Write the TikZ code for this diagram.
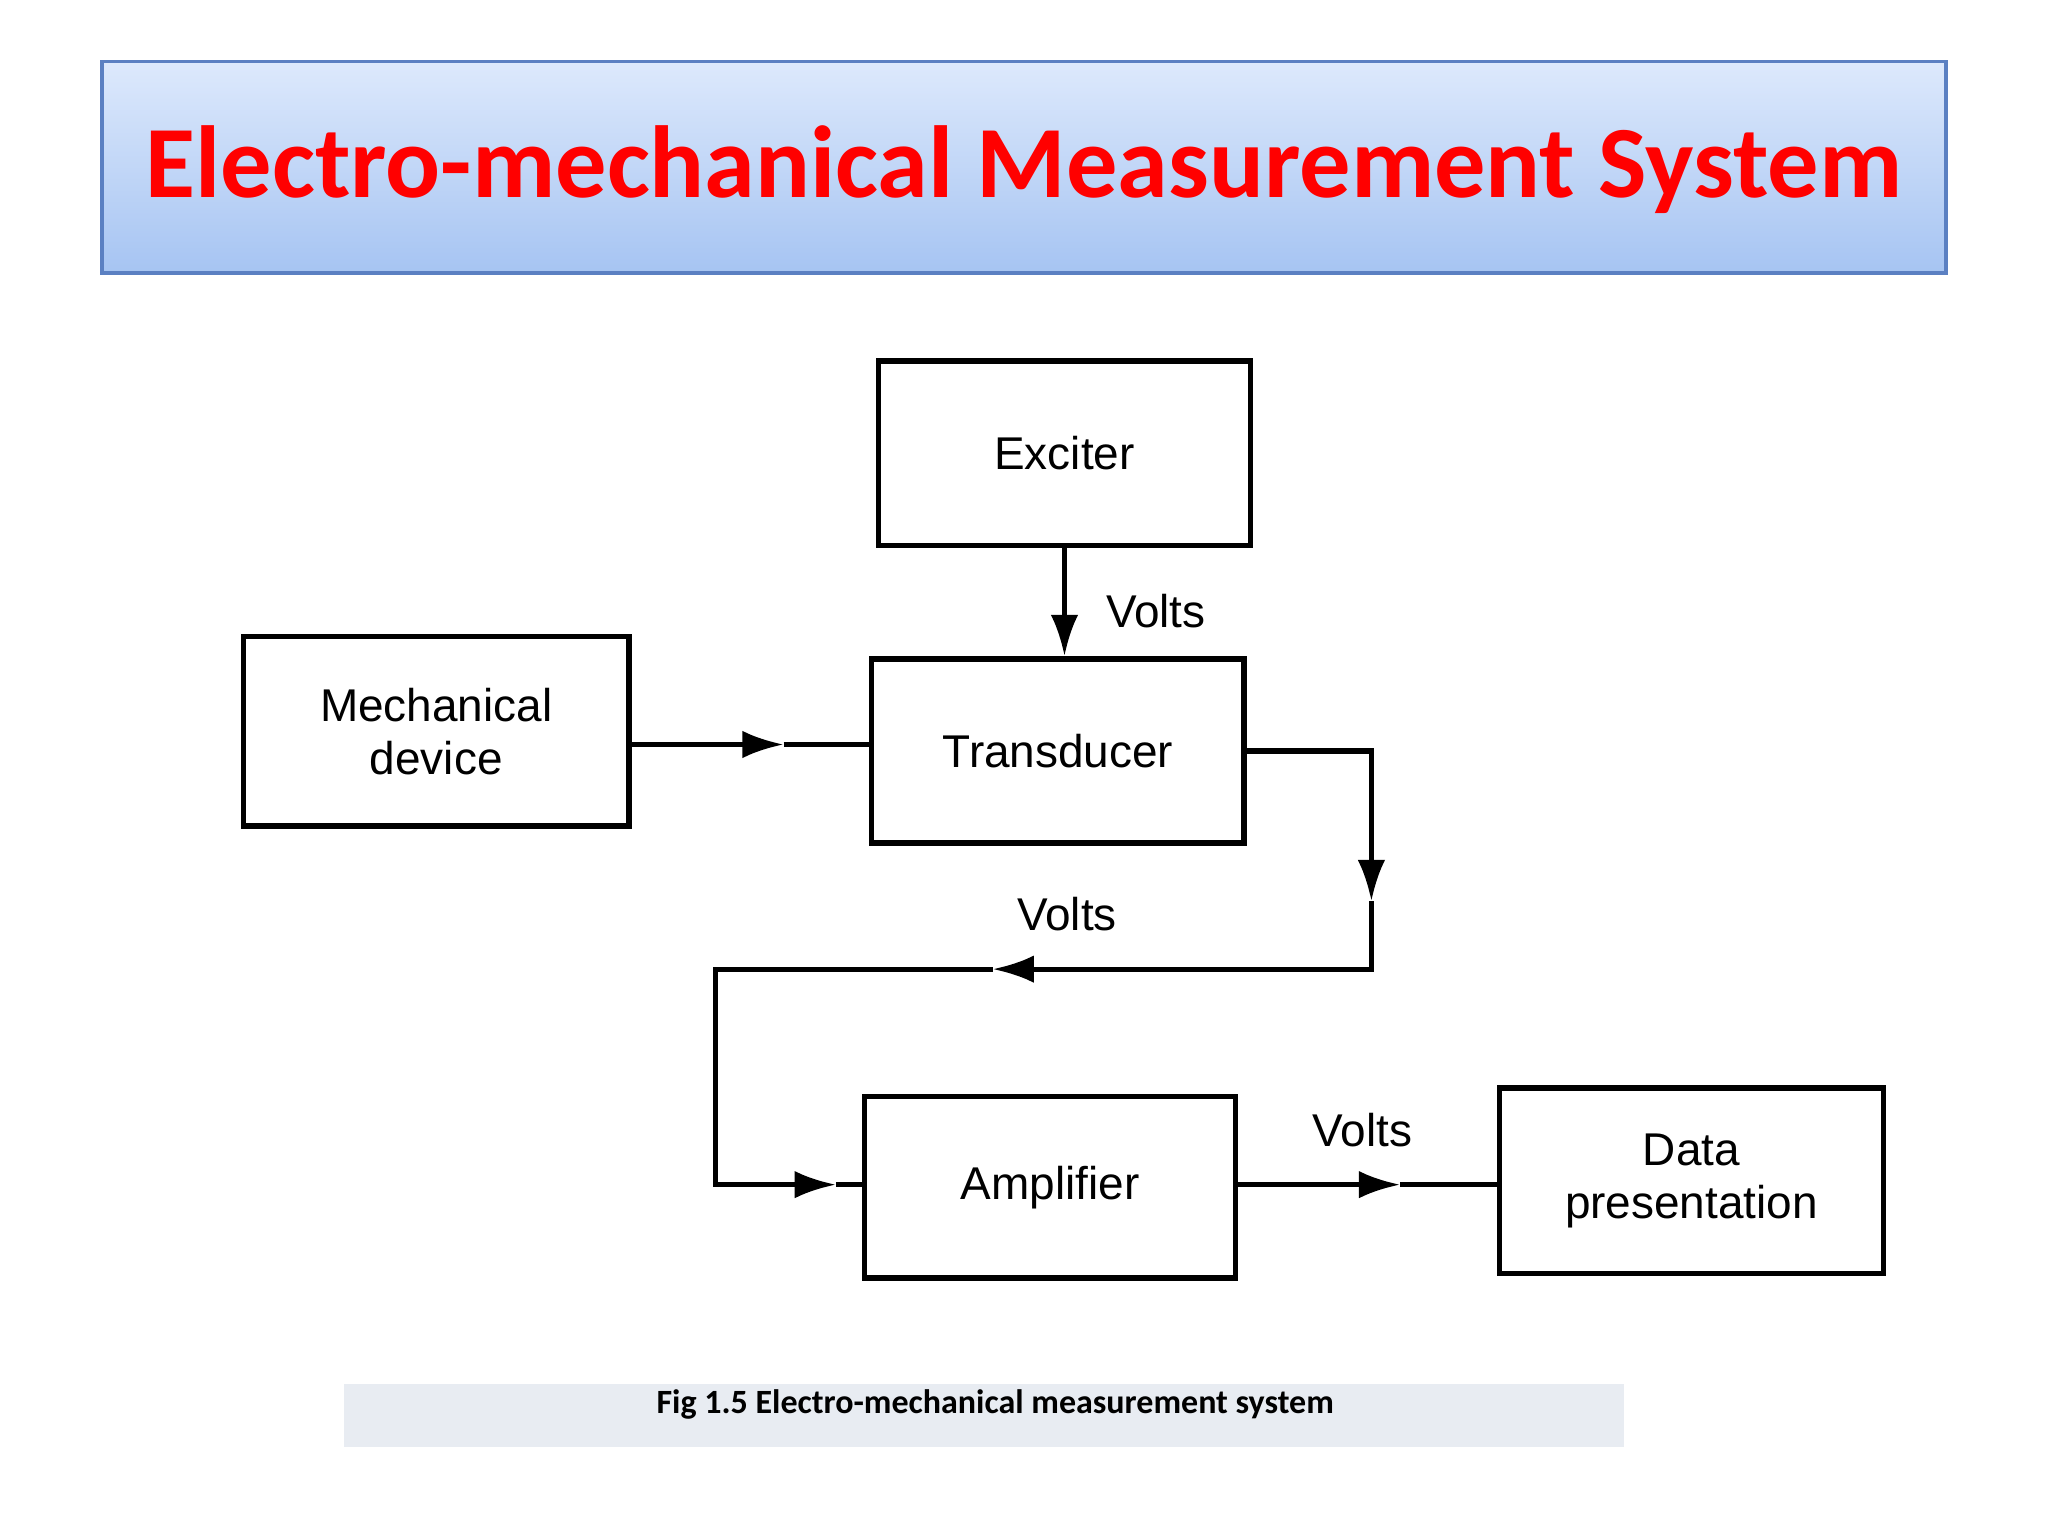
\documentclass[tikz,border=0pt]{standalone}
\usepackage{fontspec}
\setmainfont{Liberation Sans}
\newfontfamily\calfont{Carlito}
\usetikzlibrary{arrows.meta}
\definecolor{ttop}{HTML}{DDE9FC}
\definecolor{tbot}{HTML}{A6C4F2}
\definecolor{tbord}{HTML}{5B80C2}
\definecolor{capbg}{HTML}{E8ECF2}
\begin{document}
\begin{tikzpicture}[x=0.01cm,y=-0.01cm,
  blk/.style={draw,line width=1.2pt,align=center,font=\fontsize{10}{11.5}\selectfont},
  con/.style={line width=1.1pt},
  tip/.style={line width=1.1pt,-{Latex[length=9pt,width=6pt]}},
  lab/.style={font=\fontsize{10}{12}\selectfont}]
\useasboundingbox[fill=white] (0,0) rectangle (1568,1176);
\shade[top color=ttop,bottom color=tbot,draw=tbord,line width=0.8pt] (78,47) rectangle (1490,209);
\node[text=red,font=\calfont\bfseries\fontsize{22.3}{27}\selectfont] (title) at (784,130) {Electro-mechanical Measurement System};
\node[blk,minimum width=2.85cm,minimum height=1.41cm] (exc) at (815,347) {Exciter};
\node[blk,minimum width=2.95cm,minimum height=1.45cm] (mech) at (334,560) {Mechanical\\device};
\node[blk,minimum width=2.85cm,minimum height=1.41cm] (tra) at (810,575) {Transducer};
\node[blk,minimum width=2.84cm,minimum height=1.39cm] (amp) at (804,909) {Amplifier};
\node[blk,minimum width=2.94cm,minimum height=1.42cm] (dat) at (1295,904) {Data\\presentation};
\draw[tip] (exc.south) -- (exc.south |- tra.north);
\node[lab] (v1) at (885,468) {Volts};
\coordinate (m1) at (600,570);
\draw[tip] (mech.east |- m1) -- (m1);
\draw[con] (m1) -- (tra.west |- m1);
\coordinate (c1) at (1050,575);
\coordinate (c2) at (1050,690);
\coordinate (c3) at (1050,742);
\coordinate (c4) at (760,742);
\coordinate (c5) at (548,742);
\coordinate (c6) at (548,907);
\coordinate (c7) at (640,907);
\draw[tip] (tra.east) -- (c1) -- (c2);
\draw[tip] (c2) -- (c3) -- (c4);
\draw[tip] (c4) -- (c5) -- (c6) -- (c7);
\draw[con] (c7) -- (amp.west |- c7);
\node[lab] (v2) at (817,700) {Volts};
\coordinate (d1) at (1072,907);
\draw[tip] (amp.east |- d1) -- (d1);
\draw[con] (d1) -- (dat.west |- d1);
\node[lab] (v3) at (1043,865) {Volts};
\fill[capbg] (263,1060) rectangle (1243,1108);
\node[font=\calfont\bfseries\fontsize{7.4}{9}\selectfont] (cap) at (762,1075) {Fig 1.5 Electro-mechanical measurement system};
\end{tikzpicture}
\end{document}
